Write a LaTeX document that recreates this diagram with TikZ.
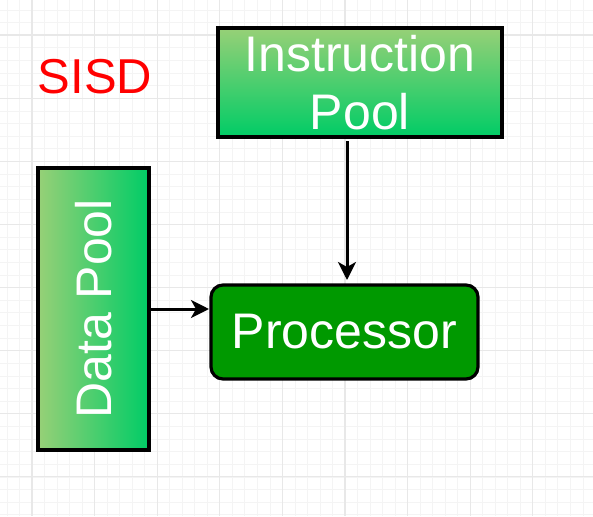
\documentclass[tikz,border=0pt]{standalone}
\usepackage{fontspec}
\setmainfont{Liberation Sans}
\usetikzlibrary{arrows.meta}
\definecolor{gridminor}{RGB}{244,244,244}
\definecolor{gridmajor}{RGB}{232,232,232}
\definecolor{gtop}{RGB}{151,208,119}
\definecolor{gbot}{RGB}{0,204,102}
\definecolor{procfill}{RGB}{0,153,0}
\tikzset{
  minorline/.style={draw=gridminor, line width=0.8pt},
  majorline/.style={draw=gridmajor, line width=1.2pt},
  bigtext/.style={font=\fontsize{50}{58}\selectfont, text=white},
  poolbox/.style={draw=black, line width=3.2pt, inner sep=0pt, outer sep=0pt, bigtext, align=center},
  procbox/.style={draw=black, line width=3.2pt, inner sep=0pt, outer sep=0pt, rounded corners=12pt, fill=procfill, bigtext},
  arr/.style={draw=black, line width=3pt, -{Stealth[length=18pt,width=18pt,inset=5pt]}}
}
\begin{document}
\begin{tikzpicture}[x=1pt,y=-1pt]
\useasboundingbox (0,0) rectangle (593,516);
\fill[white] (0,0) rectangle (593,516);
% grid
\foreach \i in {0,...,47} {
  \draw[minorline] ({7+12.52*\i},0) -- ({7+12.52*\i},516);
}
\foreach \i in {0,...,41} {
  \draw[minorline] (0,{10+12.62*\i}) -- (593,{10+12.62*\i});
}
\foreach \i in {0,...,9} {
  \draw[majorline] ({32+62.6*\i},0) -- ({32+62.6*\i},516);
}
\foreach \i in {0,...,7} {
  \draw[majorline] (0,{35+63.1*\i}) -- (593,{35+63.1*\i});
}
% title
\node[anchor=base west, inner sep=0pt, font=\fontsize{49}{58}\selectfont, text=red] (title) at (37.5,93) {SISD};
% boxes
\node[poolbox, minimum width=284pt, minimum height=109pt, top color=gtop, bottom color=gbot] (ip) at (360,82.5) {Instruction\\Pool};
\node[poolbox, minimum width=111pt, minimum height=282pt, left color=gtop, right color=gbot] (dp) at (93.5,309) {};
\node[bigtext, rotate=90, inner sep=0pt] (dptext) at (dp.center) {Data Pool};
\node[procbox, minimum width=267pt, minimum height=94pt] (proc) at (344.5,332) {Processor};
% connectors
\draw[arr, shorten <=4pt, shorten >=5pt] ([xshift=-13pt]ip.south) -- ([xshift=-13pt]ip.south |- proc.north);
\draw[arr, shorten >=2pt] (dp.east) -- (proc.west |- dp.east);
\end{tikzpicture}
\end{document}
